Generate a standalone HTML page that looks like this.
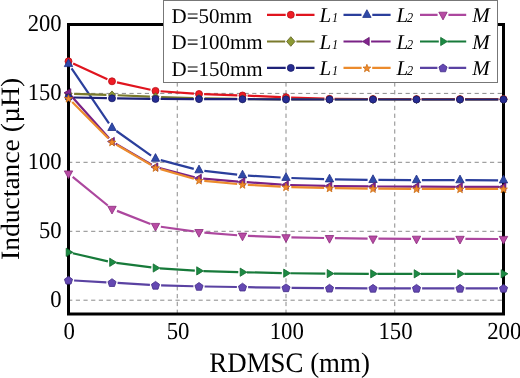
<!DOCTYPE html>
<html><head><meta charset="utf-8"><style>
html,body{margin:0;padding:0;background:#fff;}
body{width:520px;height:378px;overflow:hidden;}
svg{display:block;}
text{font-family:"Liberation Serif","Times New Roman",serif;fill:#000;text-rendering:geometricPrecision;}
.tk{font-size:24px;}
.at{font-size:26.5px;}
.lt{font-size:21px;}
.li{font-size:21px;font-style:italic;}
.sub{font-size:13.6px;}
</style></head><body>
<svg width="520" height="378" viewBox="0 0 520 378">
<path d="M68.13 300.2H503M68.13 231.3H503M68.13 162.3H503M68.13 93.4H503" stroke="#8a8a8a" stroke-width="1" stroke-dasharray="4.2 3.47" fill="none"/>
<path d="M177.25 19.56V313M286.00 19.56V313M394.75 19.56V313" stroke="#8a8a8a" stroke-width="1" stroke-dasharray="4.3 3.54" fill="none"/>
<rect x="68.5" y="24.5" width="435" height="289.5" fill="none" stroke="#000" stroke-width="3"/>
<path d="M73.13 63.43L107.37 79.17M116.98 82.40L150.52 89.80M160.59 91.26L193.91 93.64M204.10 94.18L237.40 95.32M247.60 95.71L280.90 97.09M291.10 97.48L324.40 98.62M334.60 98.82L367.90 98.98M378.10 99.01L411.40 99.09M421.60 99.10L454.90 99.10M465.10 99.10L498.40 99.10" stroke="#e0141e" stroke-width="2.2" fill="none"/>
<circle cx="68.50" cy="61.30" r="3.50" fill="#ee1c24" stroke="#b80c16" stroke-width="0.8"/>
<circle cx="112.00" cy="81.30" r="3.50" fill="#ee1c24" stroke="#b80c16" stroke-width="0.8"/>
<circle cx="155.50" cy="90.90" r="3.50" fill="#ee1c24" stroke="#b80c16" stroke-width="0.8"/>
<circle cx="199.00" cy="94.00" r="3.50" fill="#ee1c24" stroke="#b80c16" stroke-width="0.8"/>
<circle cx="242.50" cy="95.50" r="3.50" fill="#ee1c24" stroke="#b80c16" stroke-width="0.8"/>
<circle cx="286.00" cy="97.30" r="3.50" fill="#ee1c24" stroke="#b80c16" stroke-width="0.8"/>
<circle cx="329.50" cy="98.80" r="3.50" fill="#ee1c24" stroke="#b80c16" stroke-width="0.8"/>
<circle cx="373.00" cy="99.00" r="3.50" fill="#ee1c24" stroke="#b80c16" stroke-width="0.8"/>
<circle cx="416.50" cy="99.10" r="3.50" fill="#ee1c24" stroke="#b80c16" stroke-width="0.8"/>
<circle cx="460.00" cy="99.10" r="3.50" fill="#ee1c24" stroke="#b80c16" stroke-width="0.8"/>
<circle cx="503.50" cy="99.10" r="3.50" fill="#ee1c24" stroke="#b80c16" stroke-width="0.8"/>
<path d="M71.54 68.46L108.96 123.44M116.41 131.02L151.09 155.58M160.72 160.08L193.78 168.82M204.36 170.83L237.14 174.67M247.89 175.61L280.61 177.49M291.40 177.99L324.10 179.11M334.90 179.37L367.60 179.83M378.40 179.92L411.10 180.08M421.90 180.11L454.60 180.19M465.40 180.21L498.10 180.29" stroke="#2b3f9c" stroke-width="2.2" fill="none"/>
<polygon points="68.50,58.90 72.70,66.60 64.30,66.60" fill="#2f4aa8" stroke="#1f3088" stroke-width="0.8" stroke-linejoin="round"/>
<polygon points="112.00,122.80 116.20,130.50 107.80,130.50" fill="#2f4aa8" stroke="#1f3088" stroke-width="0.8" stroke-linejoin="round"/>
<polygon points="155.50,153.60 159.70,161.30 151.30,161.30" fill="#2f4aa8" stroke="#1f3088" stroke-width="0.8" stroke-linejoin="round"/>
<polygon points="199.00,165.10 203.20,172.80 194.80,172.80" fill="#2f4aa8" stroke="#1f3088" stroke-width="0.8" stroke-linejoin="round"/>
<polygon points="242.50,170.20 246.70,177.90 238.30,177.90" fill="#2f4aa8" stroke="#1f3088" stroke-width="0.8" stroke-linejoin="round"/>
<polygon points="286.00,172.70 290.20,180.40 281.80,180.40" fill="#2f4aa8" stroke="#1f3088" stroke-width="0.8" stroke-linejoin="round"/>
<polygon points="329.50,174.20 333.70,181.90 325.30,181.90" fill="#2f4aa8" stroke="#1f3088" stroke-width="0.8" stroke-linejoin="round"/>
<polygon points="373.00,174.80 377.20,182.50 368.80,182.50" fill="#2f4aa8" stroke="#1f3088" stroke-width="0.8" stroke-linejoin="round"/>
<polygon points="416.50,175.00 420.70,182.70 412.30,182.70" fill="#2f4aa8" stroke="#1f3088" stroke-width="0.8" stroke-linejoin="round"/>
<polygon points="460.00,175.10 464.20,182.80 455.80,182.80" fill="#2f4aa8" stroke="#1f3088" stroke-width="0.8" stroke-linejoin="round"/>
<polygon points="503.50,175.20 507.70,182.90 499.30,182.90" fill="#2f4aa8" stroke="#1f3088" stroke-width="0.8" stroke-linejoin="round"/>
<path d="M72.69 176.91L107.81 205.49M117.03 210.88L150.47 224.02M160.85 226.75L193.65 231.35M204.38 232.55L237.12 235.25M247.90 235.90L280.60 237.10M291.40 237.40L324.10 238.00M334.90 238.16L367.60 238.54M378.40 238.62L411.10 238.78M421.90 238.81L454.60 238.89M465.40 238.91L498.10 238.99" stroke="#ac479e" stroke-width="2.2" fill="none"/>
<polygon points="68.50,178.60 72.70,170.90 64.30,170.90" fill="#b84ca4" stroke="#8a2a7c" stroke-width="0.8" stroke-linejoin="round"/>
<polygon points="112.00,214.00 116.20,206.30 107.80,206.30" fill="#b84ca4" stroke="#8a2a7c" stroke-width="0.8" stroke-linejoin="round"/>
<polygon points="155.50,231.10 159.70,223.40 151.30,223.40" fill="#b84ca4" stroke="#8a2a7c" stroke-width="0.8" stroke-linejoin="round"/>
<polygon points="199.00,237.20 203.20,229.50 194.80,229.50" fill="#b84ca4" stroke="#8a2a7c" stroke-width="0.8" stroke-linejoin="round"/>
<polygon points="242.50,240.80 246.70,233.10 238.30,233.10" fill="#b84ca4" stroke="#8a2a7c" stroke-width="0.8" stroke-linejoin="round"/>
<polygon points="286.00,242.40 290.20,234.70 281.80,234.70" fill="#b84ca4" stroke="#8a2a7c" stroke-width="0.8" stroke-linejoin="round"/>
<polygon points="329.50,243.20 333.70,235.50 325.30,235.50" fill="#b84ca4" stroke="#8a2a7c" stroke-width="0.8" stroke-linejoin="round"/>
<polygon points="373.00,243.70 377.20,236.00 368.80,236.00" fill="#b84ca4" stroke="#8a2a7c" stroke-width="0.8" stroke-linejoin="round"/>
<polygon points="416.50,243.90 420.70,236.20 412.30,236.20" fill="#b84ca4" stroke="#8a2a7c" stroke-width="0.8" stroke-linejoin="round"/>
<polygon points="460.00,244.00 464.20,236.30 455.80,236.30" fill="#b84ca4" stroke="#8a2a7c" stroke-width="0.8" stroke-linejoin="round"/>
<polygon points="503.50,244.10 507.70,236.40 499.30,236.40" fill="#b84ca4" stroke="#8a2a7c" stroke-width="0.8" stroke-linejoin="round"/>
<path d="M74.10 93.95L106.40 94.85M117.60 95.23L149.90 96.57M161.10 96.99L193.40 98.11M204.60 98.39L236.90 98.91M248.10 99.05L280.40 99.35M291.60 99.41L323.90 99.49M335.10 99.50L367.40 99.50M378.60 99.50L410.90 99.50M422.10 99.50L454.40 99.50M465.60 99.50L497.90 99.50" stroke="#7a7a2c" stroke-width="2.2" fill="none"/>
<polygon points="68.50,89.72 72.07,93.80 68.50,97.88 64.93,93.80" fill="#8c9a34" stroke="#5e5e20" stroke-width="0.8" stroke-linejoin="round"/>
<polygon points="112.00,90.92 115.57,95.00 112.00,99.08 108.43,95.00" fill="#8c9a34" stroke="#5e5e20" stroke-width="0.8" stroke-linejoin="round"/>
<polygon points="155.50,92.72 159.07,96.80 155.50,100.88 151.93,96.80" fill="#8c9a34" stroke="#5e5e20" stroke-width="0.8" stroke-linejoin="round"/>
<polygon points="199.00,94.22 202.57,98.30 199.00,102.38 195.43,98.30" fill="#8c9a34" stroke="#5e5e20" stroke-width="0.8" stroke-linejoin="round"/>
<polygon points="242.50,94.92 246.07,99.00 242.50,103.08 238.93,99.00" fill="#8c9a34" stroke="#5e5e20" stroke-width="0.8" stroke-linejoin="round"/>
<polygon points="286.00,95.32 289.57,99.40 286.00,103.48 282.43,99.40" fill="#8c9a34" stroke="#5e5e20" stroke-width="0.8" stroke-linejoin="round"/>
<polygon points="329.50,95.42 333.07,99.50 329.50,103.58 325.93,99.50" fill="#8c9a34" stroke="#5e5e20" stroke-width="0.8" stroke-linejoin="round"/>
<polygon points="373.00,95.42 376.57,99.50 373.00,103.58 369.43,99.50" fill="#8c9a34" stroke="#5e5e20" stroke-width="0.8" stroke-linejoin="round"/>
<polygon points="416.50,95.42 420.07,99.50 416.50,103.58 412.93,99.50" fill="#8c9a34" stroke="#5e5e20" stroke-width="0.8" stroke-linejoin="round"/>
<polygon points="460.00,95.42 463.57,99.50 460.00,103.58 456.43,99.50" fill="#8c9a34" stroke="#5e5e20" stroke-width="0.8" stroke-linejoin="round"/>
<polygon points="503.50,95.42 507.07,99.50 503.50,103.58 499.93,99.50" fill="#8c9a34" stroke="#5e5e20" stroke-width="0.8" stroke-linejoin="round"/>
<path d="M71.30 95.93L109.07 138.22M115.62 143.62L151.70 164.77M159.57 168.06L194.74 177.19M203.19 178.65L238.11 181.54M246.69 182.19L281.61 184.60M290.20 185.01L325.10 185.89M333.70 186.05L368.60 186.45M377.20 186.52L412.10 186.68M420.70 186.71L455.60 186.79M464.20 186.81L499.10 186.89" stroke="#7a2286" stroke-width="2.2" fill="none"/>
<polygon points="64.10,92.80 70.80,88.70 70.80,96.90" fill="#82248e" stroke="#5e1268" stroke-width="0.8" stroke-linejoin="round"/>
<polygon points="107.60,141.50 114.30,137.40 114.30,145.60" fill="#82248e" stroke="#5e1268" stroke-width="0.8" stroke-linejoin="round"/>
<polygon points="151.10,167.00 157.80,162.90 157.80,171.10" fill="#82248e" stroke="#5e1268" stroke-width="0.8" stroke-linejoin="round"/>
<polygon points="194.60,178.30 201.30,174.20 201.30,182.40" fill="#82248e" stroke="#5e1268" stroke-width="0.8" stroke-linejoin="round"/>
<polygon points="238.10,181.90 244.80,177.80 244.80,186.00" fill="#82248e" stroke="#5e1268" stroke-width="0.8" stroke-linejoin="round"/>
<polygon points="281.60,184.90 288.30,180.80 288.30,189.00" fill="#82248e" stroke="#5e1268" stroke-width="0.8" stroke-linejoin="round"/>
<polygon points="325.10,186.00 331.80,181.90 331.80,190.10" fill="#82248e" stroke="#5e1268" stroke-width="0.8" stroke-linejoin="round"/>
<polygon points="368.60,186.50 375.30,182.40 375.30,190.60" fill="#82248e" stroke="#5e1268" stroke-width="0.8" stroke-linejoin="round"/>
<polygon points="412.10,186.70 418.80,182.60 418.80,190.80" fill="#82248e" stroke="#5e1268" stroke-width="0.8" stroke-linejoin="round"/>
<polygon points="455.60,186.80 462.30,182.70 462.30,190.90" fill="#82248e" stroke="#5e1268" stroke-width="0.8" stroke-linejoin="round"/>
<polygon points="499.10,186.90 505.80,182.80 505.80,191.00" fill="#82248e" stroke="#5e1268" stroke-width="0.8" stroke-linejoin="round"/>
<path d="M72.79 253.29L107.91 261.36M116.36 262.87L151.34 267.45M159.89 268.29L194.81 270.62M203.40 271.03L238.30 272.07M246.90 272.30L281.80 273.10M290.40 273.24L325.30 273.56M333.90 273.62L368.80 273.78M377.40 273.80L412.30 273.80M420.90 273.80L455.80 273.80M464.40 273.80L499.30 273.80" stroke="#177a3a" stroke-width="2.2" fill="none"/>
<polygon points="72.90,252.30 66.20,248.20 66.20,256.40" fill="#1c8a44" stroke="#0f6a2c" stroke-width="0.8" stroke-linejoin="round"/>
<polygon points="116.40,262.30 109.70,258.20 109.70,266.40" fill="#1c8a44" stroke="#0f6a2c" stroke-width="0.8" stroke-linejoin="round"/>
<polygon points="159.90,268.00 153.20,263.90 153.20,272.10" fill="#1c8a44" stroke="#0f6a2c" stroke-width="0.8" stroke-linejoin="round"/>
<polygon points="203.40,270.90 196.70,266.80 196.70,275.00" fill="#1c8a44" stroke="#0f6a2c" stroke-width="0.8" stroke-linejoin="round"/>
<polygon points="246.90,272.20 240.20,268.10 240.20,276.30" fill="#1c8a44" stroke="#0f6a2c" stroke-width="0.8" stroke-linejoin="round"/>
<polygon points="290.40,273.20 283.70,269.10 283.70,277.30" fill="#1c8a44" stroke="#0f6a2c" stroke-width="0.8" stroke-linejoin="round"/>
<polygon points="333.90,273.60 327.20,269.50 327.20,277.70" fill="#1c8a44" stroke="#0f6a2c" stroke-width="0.8" stroke-linejoin="round"/>
<polygon points="377.40,273.80 370.70,269.70 370.70,277.90" fill="#1c8a44" stroke="#0f6a2c" stroke-width="0.8" stroke-linejoin="round"/>
<polygon points="420.90,273.80 414.20,269.70 414.20,277.90" fill="#1c8a44" stroke="#0f6a2c" stroke-width="0.8" stroke-linejoin="round"/>
<polygon points="464.40,273.80 457.70,269.70 457.70,277.90" fill="#1c8a44" stroke="#0f6a2c" stroke-width="0.8" stroke-linejoin="round"/>
<polygon points="507.90,273.80 501.20,269.70 501.20,277.90" fill="#1c8a44" stroke="#0f6a2c" stroke-width="0.8" stroke-linejoin="round"/>
<path d="M73.60 97.51L106.90 98.19M117.10 98.37L150.40 98.83M160.60 98.92L193.90 99.08M204.10 99.11L237.40 99.19M247.60 99.22L280.90 99.38M291.10 99.41L324.40 99.49M334.60 99.50L367.90 99.50M378.10 99.50L411.40 99.50M421.60 99.50L454.90 99.50M465.10 99.50L498.40 99.50" stroke="#1f2278" stroke-width="2.2" fill="none"/>
<circle cx="68.50" cy="97.40" r="3.50" fill="#262c92" stroke="#161a66" stroke-width="0.8"/>
<circle cx="112.00" cy="98.30" r="3.50" fill="#262c92" stroke="#161a66" stroke-width="0.8"/>
<circle cx="155.50" cy="98.90" r="3.50" fill="#262c92" stroke="#161a66" stroke-width="0.8"/>
<circle cx="199.00" cy="99.10" r="3.50" fill="#262c92" stroke="#161a66" stroke-width="0.8"/>
<circle cx="242.50" cy="99.20" r="3.50" fill="#262c92" stroke="#161a66" stroke-width="0.8"/>
<circle cx="286.00" cy="99.40" r="3.50" fill="#262c92" stroke="#161a66" stroke-width="0.8"/>
<circle cx="329.50" cy="99.50" r="3.50" fill="#262c92" stroke="#161a66" stroke-width="0.8"/>
<circle cx="373.00" cy="99.50" r="3.50" fill="#262c92" stroke="#161a66" stroke-width="0.8"/>
<circle cx="416.50" cy="99.50" r="3.50" fill="#262c92" stroke="#161a66" stroke-width="0.8"/>
<circle cx="460.00" cy="99.50" r="3.50" fill="#262c92" stroke="#161a66" stroke-width="0.8"/>
<circle cx="503.50" cy="99.50" r="3.50" fill="#262c92" stroke="#161a66" stroke-width="0.8"/>
<path d="M72.24 102.06L108.26 138.24M116.57 144.69L150.93 164.91M160.59 169.09L193.91 178.81M204.28 180.81L237.22 183.99M247.79 184.79L280.71 186.61M291.30 187.03L324.20 187.87M334.80 188.07L367.70 188.53M378.30 188.62L411.20 188.78M421.80 188.81L454.70 188.89M465.30 188.90L498.20 188.90" stroke="#ec8b2c" stroke-width="2.2" fill="none"/>
<polygon points="68.50,94.70 69.50,97.42 72.40,97.53 70.12,99.33 70.91,102.12 68.50,100.50 66.09,102.12 66.88,99.33 64.60,97.53 67.50,97.42" fill="#f08a2a" stroke="#cc6e16" stroke-width="0.8" stroke-linejoin="round"/>
<polygon points="112.00,138.40 113.00,141.12 115.90,141.23 113.62,143.03 114.41,145.82 112.00,144.20 109.59,145.82 110.38,143.03 108.10,141.23 111.00,141.12" fill="#f08a2a" stroke="#cc6e16" stroke-width="0.8" stroke-linejoin="round"/>
<polygon points="155.50,164.00 156.50,166.72 159.40,166.83 157.12,168.63 157.91,171.42 155.50,169.80 153.09,171.42 153.88,168.63 151.60,166.83 154.50,166.72" fill="#f08a2a" stroke="#cc6e16" stroke-width="0.8" stroke-linejoin="round"/>
<polygon points="199.00,176.70 200.00,179.42 202.90,179.53 200.62,181.33 201.41,184.12 199.00,182.50 196.59,184.12 197.38,181.33 195.10,179.53 198.00,179.42" fill="#f08a2a" stroke="#cc6e16" stroke-width="0.8" stroke-linejoin="round"/>
<polygon points="242.50,180.90 243.50,183.62 246.40,183.73 244.12,185.53 244.91,188.32 242.50,186.70 240.09,188.32 240.88,185.53 238.60,183.73 241.50,183.62" fill="#f08a2a" stroke="#cc6e16" stroke-width="0.8" stroke-linejoin="round"/>
<polygon points="286.00,183.30 287.00,186.02 289.90,186.13 287.62,187.93 288.41,190.72 286.00,189.10 283.59,190.72 284.38,187.93 282.10,186.13 285.00,186.02" fill="#f08a2a" stroke="#cc6e16" stroke-width="0.8" stroke-linejoin="round"/>
<polygon points="329.50,184.40 330.50,187.12 333.40,187.23 331.12,189.03 331.91,191.82 329.50,190.20 327.09,191.82 327.88,189.03 325.60,187.23 328.50,187.12" fill="#f08a2a" stroke="#cc6e16" stroke-width="0.8" stroke-linejoin="round"/>
<polygon points="373.00,185.00 374.00,187.72 376.90,187.83 374.62,189.63 375.41,192.42 373.00,190.80 370.59,192.42 371.38,189.63 369.10,187.83 372.00,187.72" fill="#f08a2a" stroke="#cc6e16" stroke-width="0.8" stroke-linejoin="round"/>
<polygon points="416.50,185.20 417.50,187.92 420.40,188.03 418.12,189.83 418.91,192.62 416.50,191.00 414.09,192.62 414.88,189.83 412.60,188.03 415.50,187.92" fill="#f08a2a" stroke="#cc6e16" stroke-width="0.8" stroke-linejoin="round"/>
<polygon points="460.00,185.30 461.00,188.02 463.90,188.13 461.62,189.93 462.41,192.72 460.00,191.10 457.59,192.72 458.38,189.93 456.10,188.13 459.00,188.02" fill="#f08a2a" stroke="#cc6e16" stroke-width="0.8" stroke-linejoin="round"/>
<polygon points="503.50,185.30 504.50,188.02 507.40,188.13 505.12,189.93 505.91,192.72 503.50,191.10 501.09,192.72 501.88,189.93 499.60,188.13 502.50,188.02" fill="#f08a2a" stroke="#cc6e16" stroke-width="0.8" stroke-linejoin="round"/>
<path d="M74.09 280.51L106.41 282.29M117.59 282.95L149.91 284.95M161.10 285.44L193.40 286.26M204.60 286.49L236.90 287.01M248.10 287.19L280.40 287.71M291.60 287.85L323.90 288.15M335.10 288.21L367.40 288.29M378.60 288.30L410.90 288.30M422.10 288.30L454.40 288.30M465.60 288.30L497.90 288.30" stroke="#5a42a2" stroke-width="2.2" fill="none"/>
<polygon points="68.50,276.30 72.59,279.27 71.03,284.08 65.97,284.08 64.41,279.27" fill="#6448b2" stroke="#432c88" stroke-width="0.8" stroke-linejoin="round"/>
<polygon points="112.00,278.70 116.09,281.67 114.53,286.48 109.47,286.48 107.91,281.67" fill="#6448b2" stroke="#432c88" stroke-width="0.8" stroke-linejoin="round"/>
<polygon points="155.50,281.40 159.59,284.37 158.03,289.18 152.97,289.18 151.41,284.37" fill="#6448b2" stroke="#432c88" stroke-width="0.8" stroke-linejoin="round"/>
<polygon points="199.00,282.50 203.09,285.47 201.53,290.28 196.47,290.28 194.91,285.47" fill="#6448b2" stroke="#432c88" stroke-width="0.8" stroke-linejoin="round"/>
<polygon points="242.50,283.20 246.59,286.17 245.03,290.98 239.97,290.98 238.41,286.17" fill="#6448b2" stroke="#432c88" stroke-width="0.8" stroke-linejoin="round"/>
<polygon points="286.00,283.90 290.09,286.87 288.53,291.68 283.47,291.68 281.91,286.87" fill="#6448b2" stroke="#432c88" stroke-width="0.8" stroke-linejoin="round"/>
<polygon points="329.50,284.30 333.59,287.27 332.03,292.08 326.97,292.08 325.41,287.27" fill="#6448b2" stroke="#432c88" stroke-width="0.8" stroke-linejoin="round"/>
<polygon points="373.00,284.40 377.09,287.37 375.53,292.18 370.47,292.18 368.91,287.37" fill="#6448b2" stroke="#432c88" stroke-width="0.8" stroke-linejoin="round"/>
<polygon points="416.50,284.40 420.59,287.37 419.03,292.18 413.97,292.18 412.41,287.37" fill="#6448b2" stroke="#432c88" stroke-width="0.8" stroke-linejoin="round"/>
<polygon points="460.00,284.40 464.09,287.37 462.53,292.18 457.47,292.18 455.91,287.37" fill="#6448b2" stroke="#432c88" stroke-width="0.8" stroke-linejoin="round"/>
<polygon points="503.50,284.40 507.59,287.37 506.03,292.18 500.97,292.18 499.41,287.37" fill="#6448b2" stroke="#432c88" stroke-width="0.8" stroke-linejoin="round"/>
<rect x="163.5" y="0.5" width="334" height="82" fill="#fff" stroke="#777" stroke-width="1"/>
<text x="171.5" y="22.7" class="lt">D=50mm</text>
<path d="M267 14.8H285.7M295.9 14.8H314.5" stroke="#e0141e" stroke-width="2.2"/>
<circle cx="290.80" cy="14.80" r="3.50" fill="#ee1c24" stroke="#b80c16" stroke-width="0.8"/>
<text x="319.6" y="22.2" class="li">L</text>
<text transform="translate(331.9 22.2) scale(0.9 1)" class="li sub">1</text>
<path d="M343.5 14.8H361.5M372.3 14.8H390.6" stroke="#2b3f9c" stroke-width="2.2"/>
<polygon points="366.90,9.70 371.10,17.40 362.70,17.40" fill="#2f4aa8" stroke="#1f3088" stroke-width="0.8" stroke-linejoin="round"/>
<text x="396.6" y="22.2" class="li">L</text>
<text transform="translate(407.0 22.2) scale(0.9 1)" class="li sub">2</text>
<path d="M420 14.8H437.6M448.4 14.8H466.2" stroke="#ac479e" stroke-width="2.2"/>
<polygon points="443.00,19.90 447.20,12.20 438.80,12.20" fill="#b84ca4" stroke="#8a2a7c" stroke-width="0.8" stroke-linejoin="round"/>
<text x="472.2" y="22.2" class="li">M</text>
<text x="171.5" y="49.4" class="lt">D=100mm</text>
<path d="M267 41.5H285.2M296.4 41.5H314.5" stroke="#7a7a2c" stroke-width="2.2"/>
<polygon points="290.80,36.70 295.00,41.50 290.80,46.30 286.60,41.50" fill="#8c9a34" stroke="#5e5e20" stroke-width="0.8" stroke-linejoin="round"/>
<text x="319.6" y="48.9" class="li">L</text>
<text transform="translate(331.9 48.9) scale(0.9 1)" class="li sub">1</text>
<path d="M343.5 41.5H362.5M371.1 41.5H390.6" stroke="#7a2286" stroke-width="2.2"/>
<polygon points="362.50,41.50 369.20,37.40 369.20,45.60" fill="#82248e" stroke="#5e1268" stroke-width="0.8" stroke-linejoin="round"/>
<text x="396.6" y="48.9" class="li">L</text>
<text transform="translate(407.0 48.9) scale(0.9 1)" class="li sub">2</text>
<path d="M420 41.5H438.8M447.4 41.5H466.2" stroke="#177a3a" stroke-width="2.2"/>
<polygon points="447.40,41.50 440.70,37.40 440.70,45.60" fill="#1c8a44" stroke="#0f6a2c" stroke-width="0.8" stroke-linejoin="round"/>
<text x="472.2" y="48.9" class="li">M</text>
<text x="171.5" y="75.8" class="lt">D=150mm</text>
<path d="M267 67.9H285.7M295.9 67.9H314.5" stroke="#1f2278" stroke-width="2.2"/>
<circle cx="290.80" cy="67.90" r="3.50" fill="#262c92" stroke="#161a66" stroke-width="0.8"/>
<text x="319.6" y="75.3" class="li">L</text>
<text transform="translate(331.9 75.3) scale(0.9 1)" class="li sub">1</text>
<path d="M343.5 67.9H361.6M372.2 67.9H390.6" stroke="#ec8b2c" stroke-width="2.2"/>
<polygon points="366.90,64.30 367.90,67.02 370.80,67.13 368.52,68.93 369.31,71.72 366.90,70.10 364.49,71.72 365.28,68.93 363.00,67.13 365.90,67.02" fill="#f08a2a" stroke="#cc6e16" stroke-width="0.8" stroke-linejoin="round"/>
<text x="396.6" y="75.3" class="li">L</text>
<text transform="translate(407.0 75.3) scale(0.9 1)" class="li sub">2</text>
<path d="M420 67.9H437.4M448.6 67.9H466.2" stroke="#5a42a2" stroke-width="2.2"/>
<polygon points="443.00,64.00 447.09,66.97 445.53,71.78 440.47,71.78 438.91,66.97" fill="#6448b2" stroke="#432c88" stroke-width="0.8" stroke-linejoin="round"/>
<text x="472.2" y="75.3" class="li">M</text>
<text transform="translate(61.6 306.7) scale(0.94 1.0)" class="tk" text-anchor="end">0</text>
<text transform="translate(61.6 237.8) scale(0.94 1.0)" class="tk" text-anchor="end">50</text>
<text transform="translate(61.6 168.8) scale(0.94 1.0)" class="tk" text-anchor="end">100</text>
<text transform="translate(61.6 99.9) scale(0.94 1.0)" class="tk" text-anchor="end">150</text>
<text transform="translate(61.6 31.0) scale(0.94 1.0)" class="tk" text-anchor="end">200</text>
<text transform="translate(69.30 339.0) scale(0.95 1.02)" class="tk" text-anchor="middle">0</text>
<text transform="translate(178.05 339.0) scale(0.95 1.02)" class="tk" text-anchor="middle">50</text>
<text transform="translate(286.80 339.0) scale(0.95 1.02)" class="tk" text-anchor="middle">100</text>
<text transform="translate(395.55 339.0) scale(0.95 1.02)" class="tk" text-anchor="middle">150</text>
<text transform="translate(504.30 339.0) scale(0.95 1.02)" class="tk" text-anchor="middle">200</text>
<text transform="translate(289.6 371.8) scale(1.014 1.065)" class="at" text-anchor="middle">RDMSC (mm)</text>
<text transform="translate(19.2 168.9) rotate(-90) scale(1.04 1)" class="at" text-anchor="middle">Inductance (<tspan style="font-family:'DejaVu Serif',serif;font-size:24px">μ</tspan>H)</text>
</svg>
</body></html>
